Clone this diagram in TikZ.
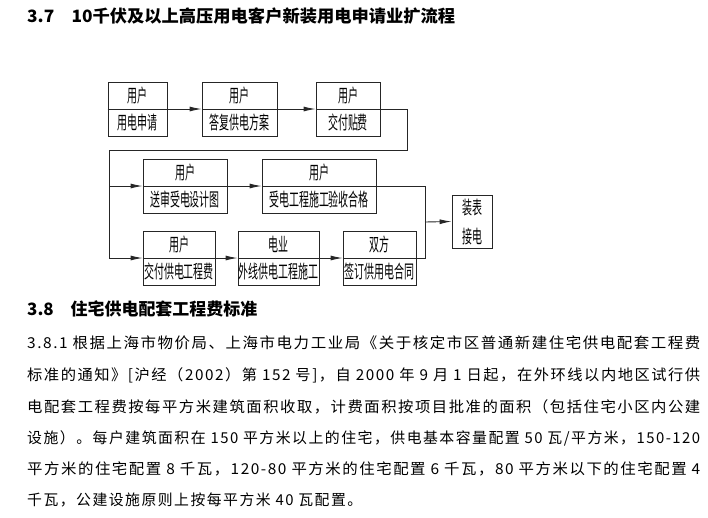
\documentclass[tikz,border=0pt]{standalone}
\usepackage{fontspec}
\usepackage{graphicx}
\newfontfamily\cjk{Noto Sans CJK SC}
\newfontfamily\cjkbody[LetterSpace=10]{Noto Sans CJK SC}
\usetikzlibrary{arrows.meta,calc}

\tikzset{
  flow/.style={draw=black!85, line width=0.9pt},
  box/.style={draw=black!85, line width=0.9pt, inner sep=0pt, minimum height=54},
  boxtext/.style={inner sep=0pt, font=\cjk\fontsize{10.5}{10.5}\selectfont},
  heading/.style={anchor=west, inner sep=0pt, font=\cjk\bfseries\fontsize{17}{17}\selectfont},
  bodyline/.style={anchor=west, inner sep=0pt, font=\cjkbody\fontsize{15}{15}\selectfont},
}

% tall narrow glyphs as in the scan
\newcommand\tall[1]{\scalebox{0.95}[1.75]{#1}}

% name, centre, width, upper text, lower text
\newcommand\flowbox[5]{%
  \node[box, minimum width=#3] (#1) at (#2) {};
  \draw[flow] (#1.west) -- (#1.east);
  \node[boxtext] (#1-up) at ($(#1.center)!0.5!(#1.north)$) {\tall{#4}};
  \node[boxtext] (#1-dn) at ($(#1.center)!0.5!(#1.south)$) {\tall{#5}};
}

\begin{document}
\begin{tikzpicture}[x=1pt, y=-1pt, >={Latex[length=12pt,width=5pt]}]
  \fill[white] (0,0) rectangle (708,517);
  \useasboundingbox (0,0) rectangle (708,517);

  % heading 3.7
  \node[heading] (h37) at (27,16) {\resizebox{428pt}{\height}{3.7\quad 10千伏及以上高压用电客户新装用电申请业扩流程}};

  % first row
  \flowbox{a1}{137.5,109}{59}{用户}{用电申请}
  \flowbox{a2}{239.5,109}{75}{用户}{答复供电方案}
  \flowbox{a3}{348,109}{64}{用户}{交付贴费}

  % second row
  \flowbox{b1}{185,186}{84}{用户}{送审受电设计图}
  \flowbox{b2}{319,186}{114}{用户}{受电工程施工验收合格}

  % third row
  \flowbox{c1}{179,258}{72}{用户}{交付供电工程费}
  \flowbox{c2}{278.5,258}{81}{电业}{外线供电工程施工}
  \flowbox{c3}{379.5,258}{73}{双方}{签订供用电合同}

  % final box
  \node[box, minimum width=40, minimum height=53] (d) at (472,221.5) {};
  \node[boxtext] (d-up) at (472,208) {\tall{装表}};
  \node[boxtext] (d-dn) at (472,237) {\tall{接电}};

  % connectors
  \coordinate (ne) at (407,150);
  \coordinate (nw) at (109,150);
  \coordinate (se) at (425,222);
  \draw[flow,->] (a1) -- (a2);
  \draw[flow,->] (a2) -- (a3);
  \draw[flow,->] (a3.east) -| (ne) -- (nw) |- (c1.west);
  \draw[flow,->] (nw |- b1.west) -- (b1.west);
  \draw[flow,->] (b1) -- (b2);
  \draw[flow,->] (c1) -- (c2);
  \draw[flow,->] (c2) -- (c3);
  \draw[flow] (b2.east) -| (se);
  \draw[flow] (c3.east) -| (se);
  \draw[flow,->] (se) -- (d.west);

  % heading 3.8 and its text
  \node[heading] (h38) at (27,309) {\resizebox{230pt}{\height}{3.8\quad 住宅供电配套工程费标准}};
  \node[bodyline] (l1) at (27,343) {\resizebox{673pt}{\height}{3.8.1 根据上海市物价局、上海市电力工业局《关于核定市区普通新建住宅供电配套工程费}};
  \node[bodyline] (l2) at (27,375) {\resizebox{673pt}{\height}{标准的通知》[沪经（2002）第 152 号]，自 2000 年 9 月 1 日起，在外环线以内地区试行供}};
  \node[bodyline] (l3) at (27,407) {\resizebox{673pt}{\height}{电配套工程费按每平方米建筑面积收取，计费面积按项目批准的面积（包括住宅小区内公建}};
  \node[bodyline] (l4) at (27,438) {\resizebox{673pt}{\height}{设施）。每户建筑面积在 150 平方米以上的住宅，供电基本容量配置 50 瓦/平方米，150-120}};
  \node[bodyline] (l5) at (27,469) {\resizebox{673pt}{\height}{平方米的住宅配置 8 千瓦，120-80 平方米的住宅配置 6 千瓦，80 平方米以下的住宅配置 4}};
  \node[bodyline] (l6) at (27,500) {\resizebox{335pt}{\height}{千瓦，公建设施原则上按每平方米 40 瓦配置。}};
\end{tikzpicture}
\end{document}
